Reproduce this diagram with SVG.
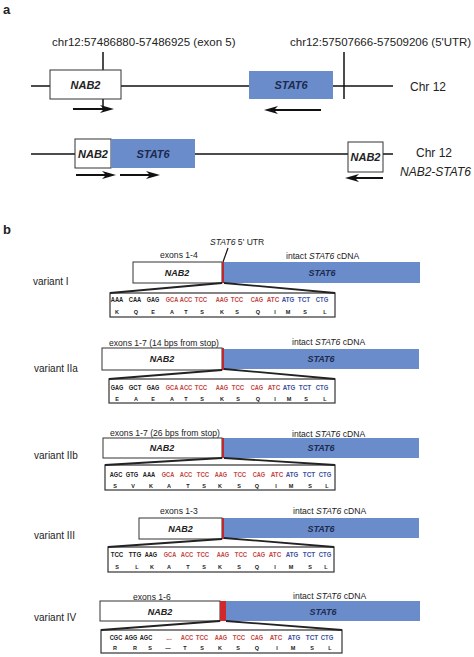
<svg xmlns="http://www.w3.org/2000/svg" width="474" height="657" viewBox="0 0 474 657">
<style>
text{font-family:"Liberation Sans",Arial,sans-serif;fill:#222}
.pl{font-size:13px;font-weight:bold}
.lab{font-size:11.5px}
.chr{font-size:12px}
.gene{font-size:11px;font-weight:bold;font-style:italic;text-anchor:middle}
.st{fill:#1c2b4f}
.gs{font-size:9px;font-weight:bold;font-style:italic;text-anchor:middle}
.var{font-size:10px}
.sm{font-size:8.6px}
.wb{fill:#fff;stroke:#333;stroke-width:1}
.bl{fill:#6b8ccb}
.ln{stroke:#111;stroke-width:1.5;fill:none}
.arr{stroke:#111;stroke-width:2;fill:none;marker-end:url(#ah)}
.sq{fill:#fff;stroke:#333;stroke-width:1.2}
.dg{stroke:#222;stroke-width:1.8;fill:none}
.red{stroke:#c0282d;stroke-width:2}
.cd text{font-size:6.6px;font-weight:bold;text-anchor:middle}
.cd .r{fill:#c4473f}
.cd .u{fill:#3b4f9e}
.cd .a{font-size:5.5px}
</style>
<defs>
<marker id="ah" viewBox="0 0 14 8" refX="10" refY="4" markerWidth="14" markerHeight="8" markerUnits="userSpaceOnUse" orient="auto">
<path d="M0,0 L14,4 L0,8 L4,4 Z" fill="#111"/>
</marker>
</defs>

<!-- Panel a -->
<text class="pl" x="3" y="14">a</text>
<text class="lab" x="52" y="46">chr12:57486880-57486925 (exon 5)</text>
<text class="lab" x="290" y="46">chr12:57507666-57509206 (5'UTR)</text>
<text class="chr" x="410" y="91">Chr 12</text>
<text class="chr" x="416" y="157">Chr 12</text>
<text class="chr" x="400" y="176" font-style="italic">NAB2-STAT6</text>

<g id="connectors">
<line class="ln" x1="31" y1="86" x2="393" y2="86"/>
<line class="ln" x1="103" y1="52" x2="103" y2="108"/>
<line class="ln" x1="344" y1="52" x2="344" y2="99"/>
<line class="ln" x1="31" y1="154" x2="393" y2="154"/>
<line class="arr" x1="73" y1="109" x2="110" y2="109"/>
<line class="arr" x1="321" y1="110" x2="268" y2="110"/>
<line class="arr" x1="76" y1="175" x2="112" y2="175"/>
<line class="arr" x1="120" y1="175" x2="156" y2="175"/>
<line class="arr" x1="383" y1="178" x2="349" y2="178"/>
</g>

<g id="a-nab2">
<rect class="wb" x="50" y="70" width="71" height="29"/>
<text class="gene" x="85.5" y="89">NAB2</text>
</g>
<g id="a-stat6">
<rect class="bl" x="249" y="71" width="84" height="28"/>
<text class="gene st" x="291" y="89">STAT6</text>
</g>
<g id="a-fusion">
<rect class="wb" x="75" y="139" width="36" height="29"/>
<text class="gene" x="93" y="158">NAB2</text>
<rect class="bl" x="111" y="139" width="84" height="29"/>
<text class="gene st" x="153" y="158">STAT6</text>
</g>
<g id="a-nab2b">
<rect class="wb" x="348" y="142" width="35" height="30"/>
<text class="gene" x="365.5" y="161">NAB2</text>
</g>

<!-- Panel b -->
<text class="pl" x="3" y="234">b</text>

<!-- variant I -->
<g id="variant-I">
<text class="var" x="33" y="285">variant I</text>
<text class="sm" x="160" y="258">exons 1-4</text>
<text class="sm" x="210" y="245" font-size="9"><tspan font-style="italic">STAT6</tspan> 5' UTR</text>
<line x1="228" y1="248" x2="223" y2="262" stroke="#111" stroke-width="1.2"/>
<text class="sm" x="286" y="259">intact <tspan font-style="italic">STAT6</tspan> cDNA</text>
<rect class="wb" x="133" y="262" width="89" height="21"/>
<text class="gs" x="177" y="276">NAB2</text>
<rect class="bl" x="223" y="262" width="197" height="21"/>
<text class="gs st" x="322" y="276">STAT6</text>
<line class="red" x1="223" y1="262" x2="223" y2="283"/>
<rect class="sq" x="110" y="293" width="225" height="24"/>
<path class="dg" d="M110,293 L222,283 M224,283 L335,293"/>
<g class="cd">
<text x="117" y="301.5" textLength="12.5" lengthAdjust="spacingAndGlyphs">AAA</text><text x="135" y="301.5" textLength="12.5" lengthAdjust="spacingAndGlyphs">CAA</text><text x="153" y="301.5" textLength="12.5" lengthAdjust="spacingAndGlyphs">GAG</text>
<text class="r" x="172" y="301.5" textLength="12.5" lengthAdjust="spacingAndGlyphs">GCA</text><text class="r" x="186" y="301.5" textLength="12.5" lengthAdjust="spacingAndGlyphs">ACC</text><text class="r" x="201" y="301.5" textLength="12.5" lengthAdjust="spacingAndGlyphs">TCC</text><text class="r" x="222" y="301.5" textLength="12.5" lengthAdjust="spacingAndGlyphs">AAG</text><text class="r" x="237" y="301.5" textLength="12.5" lengthAdjust="spacingAndGlyphs">TCC</text><text class="r" x="257" y="301.5" textLength="12.5" lengthAdjust="spacingAndGlyphs">CAG</text><text class="r" x="273" y="301.5" textLength="12.5" lengthAdjust="spacingAndGlyphs">ATC</text>
<text class="u" x="288" y="301.5" textLength="12.5" lengthAdjust="spacingAndGlyphs">ATG</text><text class="u" x="304" y="301.5" textLength="12.5" lengthAdjust="spacingAndGlyphs">TCT</text><text class="u" x="322" y="301.5" textLength="12.5" lengthAdjust="spacingAndGlyphs">CTG</text>
<text class="a" x="117" y="313.5">K</text><text class="a" x="136" y="313.5">Q</text><text class="a" x="153" y="313.5">E</text><text class="a" x="172" y="313.5">A</text><text class="a" x="186" y="313.5">T</text><text class="a" x="202" y="313.5">S</text><text class="a" x="222" y="313.5">K</text><text class="a" x="237" y="313.5">S</text><text class="a" x="258" y="313.5">Q</text><text class="a" x="275" y="313.5">I</text><text class="a" x="288" y="313.5">M</text><text class="a" x="305" y="313.5">S</text><text class="a" x="325" y="313.5">L</text>
</g>
</g>

<!-- variant IIa -->
<g id="variant-IIa">
<text class="var" x="34" y="372">variant IIa</text>
<text class="sm" x="109" y="346">exons 1-7 (14 bps from stop)</text>
<text class="sm" x="292" y="345">intact <tspan font-style="italic">STAT6</tspan> cDNA</text>
<rect class="wb" x="102" y="348" width="120" height="22"/>
<text class="gs" x="162" y="362">NAB2</text>
<rect class="bl" x="223" y="349" width="196" height="20"/>
<text class="gs st" x="321" y="362">STAT6</text>
<line class="red" x1="223" y1="348" x2="223" y2="370"/>
<rect class="sq" x="109" y="379" width="226" height="24"/>
<path class="dg" d="M109,379 L222,370 M224,369 L335,379"/>
<g class="cd">
<text x="117" y="390" textLength="12.5" lengthAdjust="spacingAndGlyphs">GAG</text><text x="135" y="390" textLength="12.5" lengthAdjust="spacingAndGlyphs">GCT</text><text x="153" y="390" textLength="12.5" lengthAdjust="spacingAndGlyphs">GAG</text>
<text class="r" x="172" y="390" textLength="12.5" lengthAdjust="spacingAndGlyphs">GCA</text><text class="r" x="186" y="390" textLength="12.5" lengthAdjust="spacingAndGlyphs">ACC</text><text class="r" x="201" y="390" textLength="12.5" lengthAdjust="spacingAndGlyphs">TCC</text><text class="r" x="222" y="390" textLength="12.5" lengthAdjust="spacingAndGlyphs">AAG</text><text class="r" x="238" y="390" textLength="12.5" lengthAdjust="spacingAndGlyphs">TCC</text><text class="r" x="257" y="390" textLength="12.5" lengthAdjust="spacingAndGlyphs">CAG</text><text class="r" x="274" y="390" textLength="12.5" lengthAdjust="spacingAndGlyphs">ATC</text>
<text class="u" x="289" y="390" textLength="12.5" lengthAdjust="spacingAndGlyphs">ATG</text><text class="u" x="305" y="390" textLength="12.5" lengthAdjust="spacingAndGlyphs">TCT</text><text class="u" x="322" y="390" textLength="12.5" lengthAdjust="spacingAndGlyphs">CTG</text>
<text class="a" x="117" y="400.5">E</text><text class="a" x="136" y="400.5">A</text><text class="a" x="153" y="400.5">E</text><text class="a" x="172" y="400.5">A</text><text class="a" x="186" y="400.5">T</text><text class="a" x="202" y="400.5">S</text><text class="a" x="222" y="400.5">K</text><text class="a" x="238" y="400.5">S</text><text class="a" x="258" y="400.5">Q</text><text class="a" x="275" y="400.5">I</text><text class="a" x="289" y="400.5">M</text><text class="a" x="306" y="400.5">S</text><text class="a" x="325" y="400.5">L</text>
</g>
</g>

<!-- variant IIb -->
<g id="variant-IIb">
<text class="var" x="34" y="459">variant IIb</text>
<text class="sm" x="110" y="436">exons 1-7 (26 bps from stop)</text>
<text class="sm" x="292" y="437">intact <tspan font-style="italic">STAT6</tspan> cDNA</text>
<rect class="wb" x="103" y="438" width="119" height="20"/>
<text class="gs" x="162" y="451">NAB2</text>
<rect class="bl" x="223" y="438" width="196" height="20"/>
<text class="gs st" x="321" y="451">STAT6</text>
<line class="red" x1="223" y1="438" x2="223" y2="458"/>
<rect class="sq" x="105" y="465" width="230" height="25"/>
<path class="dg" d="M105,465 L222,458 M224,458 L335,465"/>
<g class="cd">
<text x="116" y="477" textLength="12.5" lengthAdjust="spacingAndGlyphs">AGC</text><text x="132" y="477" textLength="12.5" lengthAdjust="spacingAndGlyphs">GTG</text><text x="149" y="477" textLength="12.5" lengthAdjust="spacingAndGlyphs">AAA</text>
<text class="r" x="168" y="477" textLength="12.5" lengthAdjust="spacingAndGlyphs">GCA</text><text class="r" x="186" y="477" textLength="12.5" lengthAdjust="spacingAndGlyphs">ACC</text><text class="r" x="203" y="477" textLength="12.5" lengthAdjust="spacingAndGlyphs">TCC</text><text class="r" x="221" y="477" textLength="12.5" lengthAdjust="spacingAndGlyphs">AAG</text><text class="r" x="240" y="477" textLength="12.5" lengthAdjust="spacingAndGlyphs">TCC</text><text class="r" x="259" y="477" textLength="12.5" lengthAdjust="spacingAndGlyphs">CAG</text><text class="r" x="277" y="477" textLength="12.5" lengthAdjust="spacingAndGlyphs">ATC</text>
<text class="u" x="292" y="477" textLength="12.5" lengthAdjust="spacingAndGlyphs">ATG</text><text class="u" x="309" y="477" textLength="12.5" lengthAdjust="spacingAndGlyphs">TCT</text><text class="u" x="325" y="477" textLength="12.5" lengthAdjust="spacingAndGlyphs">CTG</text>
<text class="a" x="115" y="487.5">S</text><text class="a" x="133" y="487.5">V</text><text class="a" x="151" y="487.5">K</text><text class="a" x="169" y="487.5">A</text><text class="a" x="188" y="487.5">T</text><text class="a" x="204" y="487.5">S</text><text class="a" x="220" y="487.5">K</text><text class="a" x="239" y="487.5">S</text><text class="a" x="257" y="487.5">Q</text><text class="a" x="276" y="487.5">I</text><text class="a" x="291" y="487.5">M</text><text class="a" x="310" y="487.5">S</text><text class="a" x="327" y="487.5">L</text>
</g>
</g>

<!-- variant III -->
<g id="variant-III">
<text class="var" x="34" y="539">variant III</text>
<text class="sm" x="160" y="514">exons 1-3</text>
<text class="sm" x="293" y="514">intact <tspan font-style="italic">STAT6</tspan> cDNA</text>
<rect class="wb" x="139" y="518" width="83" height="21"/>
<text class="gs" x="180.5" y="531.5">NAB2</text>
<rect class="bl" x="223" y="518" width="196" height="20"/>
<text class="gs st" x="321" y="531.5">STAT6</text>
<line class="red" x1="223" y1="518" x2="223" y2="539"/>
<rect class="sq" x="108" y="547" width="226" height="25"/>
<path class="dg" d="M108,547 L222,539 M224,538 L334,547"/>
<g class="cd">
<text x="117" y="557" textLength="12.5" lengthAdjust="spacingAndGlyphs">TCC</text><text x="135" y="557" textLength="12.5" lengthAdjust="spacingAndGlyphs">TTG</text><text x="151" y="557" textLength="12.5" lengthAdjust="spacingAndGlyphs">AAG</text>
<text class="r" x="170" y="557" textLength="12.5" lengthAdjust="spacingAndGlyphs">GCA</text><text class="r" x="187" y="557" textLength="12.5" lengthAdjust="spacingAndGlyphs">ACC</text><text class="r" x="203" y="557" textLength="12.5" lengthAdjust="spacingAndGlyphs">TCC</text><text class="r" x="223" y="557" textLength="12.5" lengthAdjust="spacingAndGlyphs">AAG</text><text class="r" x="241" y="557" textLength="12.5" lengthAdjust="spacingAndGlyphs">TCC</text><text class="r" x="259" y="557" textLength="12.5" lengthAdjust="spacingAndGlyphs">CAG</text><text class="r" x="275" y="557" textLength="12.5" lengthAdjust="spacingAndGlyphs">ATC</text>
<text class="u" x="292" y="557" textLength="12.5" lengthAdjust="spacingAndGlyphs">ATG</text><text class="u" x="309" y="557" textLength="12.5" lengthAdjust="spacingAndGlyphs">TCT</text><text class="u" x="325" y="557" textLength="12.5" lengthAdjust="spacingAndGlyphs">CTG</text>
<text class="a" x="117" y="568.5">S</text><text class="a" x="137" y="568.5">L</text><text class="a" x="152" y="568.5">K</text><text class="a" x="169" y="568.5">A</text><text class="a" x="188" y="568.5">T</text><text class="a" x="204" y="568.5">S</text><text class="a" x="220" y="568.5">K</text><text class="a" x="239" y="568.5">S</text><text class="a" x="257" y="568.5">Q</text><text class="a" x="275" y="568.5">I</text><text class="a" x="291" y="568.5">M</text><text class="a" x="310" y="568.5">S</text><text class="a" x="326" y="568.5">L</text>
</g>
</g>

<!-- variant IV -->
<g id="variant-IV">
<text class="var" x="34" y="621">variant IV</text>
<text class="sm" x="133" y="600" font-size="9.4">exons 1-6</text>
<text class="sm" x="293" y="599">intact <tspan font-style="italic">STAT6</tspan> cDNA</text>
<rect class="wb" x="100" y="601" width="120" height="20"/>
<text class="gs" x="160" y="614.5">NAB2</text>
<rect class="bl" x="226" y="601" width="194" height="20"/>
<text class="gs st" x="323" y="614.5">STAT6</text>
<rect x="220" y="601" width="6" height="20" fill="#d0282d"/>
<rect class="sq" x="101" y="630" width="241" height="23"/>
<path class="dg" d="M101,630 L220,621 M226,621 L342,630"/>
<g class="cd">
<text x="116" y="640" textLength="12.5" lengthAdjust="spacingAndGlyphs">CGC</text><text x="131" y="640" textLength="12.5" lengthAdjust="spacingAndGlyphs">AGG</text><text x="146" y="640" textLength="12.5" lengthAdjust="spacingAndGlyphs">AGC</text>
<text class="r" x="169" y="640">...</text><text class="r" x="187" y="640" textLength="12.5" lengthAdjust="spacingAndGlyphs">ACC</text><text class="r" x="202" y="640" textLength="12.5" lengthAdjust="spacingAndGlyphs">TCC</text><text class="r" x="221" y="640" textLength="12.5" lengthAdjust="spacingAndGlyphs">AAG</text><text class="r" x="239" y="640" textLength="12.5" lengthAdjust="spacingAndGlyphs">TCC</text><text class="r" x="257" y="640" textLength="12.5" lengthAdjust="spacingAndGlyphs">CAG</text><text class="r" x="276" y="640" textLength="12.5" lengthAdjust="spacingAndGlyphs">ATC</text>
<text class="u" x="294" y="640" textLength="12.5" lengthAdjust="spacingAndGlyphs">ATG</text><text class="u" x="312" y="640" textLength="12.5" lengthAdjust="spacingAndGlyphs">TCT</text><text class="u" x="327" y="640" textLength="12.5" lengthAdjust="spacingAndGlyphs">CTG</text>
<text class="a" x="115" y="650">R</text><text class="a" x="135" y="650">R</text><text class="a" x="150" y="650">S</text><text class="a" x="168" y="650">—</text><text class="a" x="185" y="650">T</text><text class="a" x="202" y="650">S</text><text class="a" x="220" y="650">K</text><text class="a" x="238" y="650">S</text><text class="a" x="257" y="650">Q</text><text class="a" x="277" y="650">I</text><text class="a" x="293" y="650">M</text><text class="a" x="312" y="650">S</text><text class="a" x="330" y="650">L</text>
</g>
</g>
</svg>
